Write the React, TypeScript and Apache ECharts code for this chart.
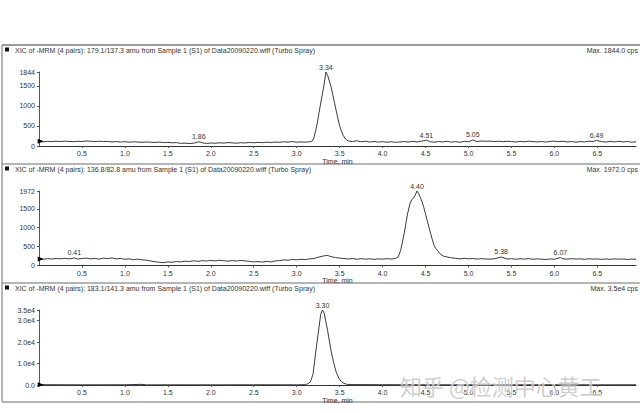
import React, { useEffect, useRef } from "react";
import * as echarts from "echarts";

// ---- data ----
const titles = [
  "XIC of -MRM (4 pairs): 179.1/137.3 amu from Sample 1 (S1) of Data20090220.wiff (Turbo Spray)",
  "XIC of -MRM (4 pairs): 136.8/82.8 amu from Sample 1 (S1) of Data20090220.wiff (Turbo Spray)",
  "XIC of -MRM (4 pairs): 183.1/141.3 amu from Sample 1 (S1) of Data20090220.wiff (Turbo Spray)",
];
const maxLabels = ["Max. 1844.0 cps", "Max. 1972.0 cps", "Max. 3.5e4 cps"];
const yMaxes = [1844, 1972, 35000];
const yIntervals = [500, 500, 10000];
const xName = "Time, min";
const xMax = 6.95;

const times1 = [
  0.0, 0.05, 0.1, 0.15, 0.2, 0.25, 0.3, 0.35, 0.4, 0.45, 0.5, 0.55, 0.6, 0.65, 0.7, 0.75, 0.8, 0.85, 0.9, 0.95,
  1.0, 1.05, 1.1, 1.15, 1.2, 1.25, 1.3, 1.35, 1.4, 1.45, 1.5, 1.55, 1.6, 1.65, 1.7, 1.75, 1.8, 1.86, 1.9, 1.95,
  2.0, 2.05, 2.1, 2.15, 2.2, 2.25, 2.3, 2.35, 2.4, 2.45, 2.5, 2.55, 2.6, 2.65, 2.7, 2.75, 2.8, 2.85, 2.9, 2.95,
  3.0, 3.05, 3.1, 3.15, 3.18, 3.2, 3.22, 3.24, 3.26, 3.28, 3.3, 3.32, 3.34, 3.36, 3.38, 3.4, 3.42, 3.44, 3.46,
  3.48, 3.5, 3.52, 3.54, 3.56, 3.58, 3.6, 3.65, 3.7, 3.75, 3.8, 3.85, 3.9, 3.95, 4.0, 4.05, 4.1, 4.15, 4.2,
  4.25, 4.3, 4.35, 4.4, 4.45, 4.51, 4.55, 4.6, 4.65, 4.7, 4.75, 4.8, 4.85, 4.9, 4.95, 5.0, 5.05, 5.1, 5.15,
  5.2, 5.25, 5.3, 5.35, 5.4, 5.45, 5.5, 5.55, 5.6, 5.65, 5.7, 5.75, 5.8, 5.85, 5.9, 5.95, 6.0, 6.05, 6.1,
  6.15, 6.2, 6.25, 6.3, 6.35, 6.4, 6.45, 6.49, 6.55, 6.6, 6.65, 6.7, 6.75, 6.8, 6.85, 6.9, 6.95,
];
const counts1 = [
  120, 105, 115, 110, 118, 112, 120, 115, 108, 118, 112, 125, 118, 108, 120, 110, 115, 102, 110, 98,
  108, 95, 105, 98, 92, 100, 95, 88, 97, 85, 90, 80, 85, 65, 72, 60, 70, 105, 80, 62,
  75, 68, 80, 72, 85, 78, 70, 82, 75, 88, 80, 90, 84, 95, 88, 98, 92, 105, 98, 110,
  95, 102, 96, 105, 120, 200, 380, 575, 830, 1075, 1300, 1550, 1844, 1760, 1620, 1480, 1280, 1080, 880,
  680, 500, 380, 270, 200, 150, 125, 110, 130, 105, 118, 100, 112, 98, 108, 95, 105, 92, 100,
  110, 98, 115, 102, 118, 145, 108, 95, 112, 100, 118, 96, 110, 92, 115, 105, 150, 112, 125,
  118, 122, 110, 120, 108, 118, 112, 100, 115, 105, 120, 110, 102, 112, 98, 115, 120, 108, 118,
  100, 112, 96, 110, 102, 118, 112, 140, 110, 98, 115, 102, 118, 100, 112, 95, 105,
];
const peaks1 = [
  [1.86, 105],
  [3.34, 1844],
  [4.51, 145],
  [5.05, 150],
  [6.49, 140],
];

const times2 = [
  0.0, 0.05, 0.1, 0.15, 0.2, 0.25, 0.3, 0.35, 0.41, 0.45, 0.5, 0.55, 0.6, 0.65, 0.7, 0.75, 0.8, 0.85, 0.9, 0.95,
  1.0, 1.05, 1.1, 1.15, 1.2, 1.25, 1.3, 1.35, 1.4, 1.45, 1.5, 1.55, 1.6, 1.65, 1.7, 1.75, 1.8, 1.85, 1.9, 1.95,
  2.0, 2.05, 2.1, 2.15, 2.2, 2.25, 2.3, 2.35, 2.4, 2.45, 2.5, 2.55, 2.6, 2.65, 2.7, 2.75, 2.8, 2.85, 2.9, 2.95,
  3.0, 3.05, 3.1, 3.15, 3.2, 3.25, 3.3, 3.35, 3.4, 3.45, 3.5, 3.55, 3.6, 3.65, 3.7, 3.75, 3.8, 3.85, 3.9, 3.95,
  4.0, 4.05, 4.1, 4.15, 4.18, 4.21, 4.25, 4.29, 4.32, 4.34, 4.36, 4.38, 4.4, 4.42, 4.44, 4.46, 4.48, 4.5, 4.52,
  4.54, 4.56, 4.58, 4.6, 4.62, 4.64, 4.67, 4.71, 4.75, 4.8, 4.85, 4.9, 4.95, 5.0, 5.05, 5.1, 5.15, 5.2, 5.25,
  5.3, 5.38, 5.45, 5.5, 5.55, 5.6, 5.65, 5.7, 5.75, 5.8, 5.85, 5.9, 5.95, 6.0, 6.07, 6.1, 6.15, 6.2, 6.25,
  6.3, 6.35, 6.4, 6.45, 6.5, 6.55, 6.6, 6.65, 6.7, 6.75, 6.8, 6.85, 6.9, 6.95,
];
const counts2 = [
  175, 165, 180, 172, 185, 178, 190, 175, 200, 170, 185, 195, 175, 188, 170, 195, 182, 200, 175, 185,
  165, 175, 155, 168, 150, 140, 120, 100, 85, 75, 95, 85, 105, 95, 115, 105, 125, 110, 130, 118,
  135, 120, 140, 125, 115, 130, 118, 135, 122, 110, 95, 105, 90, 110, 95, 120, 130, 150, 140, 160,
  150, 165, 155, 175, 185, 220, 245, 270, 235, 210, 195, 185, 170, 185, 165, 180, 168, 178, 162, 175,
  168, 180, 170, 185, 220, 395, 830, 1360, 1650, 1740, 1790, 1860, 1972, 1900, 1800, 1680, 1535, 1360, 1185,
  1010, 840, 680, 525, 450, 395, 307, 245, 225, 205, 190, 175, 190, 178, 185, 170, 180, 172, 168,
  178, 225, 170, 182, 165, 178, 170, 182, 165, 175, 168, 158, 175, 165, 210, 175, 168, 180, 170,
  176, 165, 178, 168, 175, 162, 172, 165, 175, 168, 172, 160, 170, 165,
];
const peaks2 = [
  [0.41, 200],
  [4.4, 1972],
  [5.38, 225],
  [6.07, 210],
];

const times3 = [
  0.0, 0.5, 1.0, 1.2, 1.25, 1.5, 2.0, 2.5, 3.0, 3.1, 3.13, 3.16, 3.19, 3.22, 3.25, 3.28, 3.3, 3.32, 3.34, 3.36,
  3.38, 3.4, 3.43, 3.46, 3.49, 3.52, 3.55, 3.58, 3.62, 4.0, 4.5, 5.0, 5.5, 6.0, 6.5, 6.95,
];
const counts3 = [
  150, 100, 120, 300, 80, 100, 90, 110, 100, 150, 600, 1500, 5000, 14900, 24000, 33000, 35000, 33500, 29500, 25500,
  20500, 16000, 10500, 6000, 3200, 1600, 800, 350, 200, 150, 120, 100, 120, 110, 100, 120,
];
const peaks3 = [[3.3, 35000]];

const watermark = "知乎 @检测中心黄工";

// ---- layout / style ----
const panelTops = [45, 164, 283];
const panelBottom = 402;
const FONT = "Liberation Sans, Arial, sans-serif";
const TXT = "#333333";

export default function App() {
  const ref = useRef<HTMLDivElement>(null);

  useEffect(() => {
    if (!ref.current) return;
    const chart = echarts.init(ref.current, undefined, { renderer: "svg" });
    const seriesData = [
      times1.map((t, i) => [t, counts1[i]]),
      times2.map((t, i) => [t, counts2[i]]),
      times3.map((t, i) => [t, counts3[i]]),
    ];
    const peakSets = [peaks1, peaks2, peaks3];

    const yFmt = (p: number) => (v: number) => {
      if (p === 2) return v === 0 ? "0.0" : (v / 10000).toFixed(1) + "e4";
      return String(Math.round(v));
    };

    const option: any = {
      animation: false,
      backgroundColor: "#ffffff",
      textStyle: { fontFamily: FONT },
      title: panelTops.flatMap((T, i) => [
        {
          text: titles[i],
          left: 15,
          top: T + 1,
          padding: 0,
          textStyle: { fontSize: 7, fontWeight: "normal", color: TXT, fontFamily: FONT, lineHeight: 8 },
        },
        {
          text: maxLabels[i],
          right: 2,
          top: T + 1,
          padding: 0,
          textStyle: { fontSize: 7, fontWeight: "normal", color: TXT, fontFamily: FONT, lineHeight: 8 },
        },
      ]),
      grid: panelTops.map((T, i) => ({
        left: 39,
        right: 4,
        top: T + 27,
        height: 74 + i * 0.5,
        containLabel: false,
      })),
      xAxis: panelTops.map((_, i) => ({
        type: "value",
        gridIndex: i,
        min: 0,
        max: xMax,
        interval: 0.5,
        name: xName,
        nameLocation: "middle",
        nameGap: 10,
        nameTextStyle: { fontSize: 7, color: TXT, fontFamily: FONT },
        axisLine: { show: true, onZero: false, lineStyle: { color: "#333", width: 1 } },
        axisTick: { show: true, length: 2, lineStyle: { color: "#555" } },
        axisLabel: {
          fontSize: 7,
          color: TXT,
          margin: 4,
          showMinLabel: false,
          showMaxLabel: false,
          formatter: (v: number) => v.toFixed(1),
        },
        splitLine: { show: false },
      })),
      yAxis: panelTops.map((_, i) => ({
        type: "value",
        gridIndex: i,
        min: 0,
        max: yMaxes[i],
        interval: yIntervals[i],
        axisLine: { show: true, lineStyle: { color: "#555", width: 1 } },
        axisTick: { show: true, length: 2, lineStyle: { color: "#555" } },
        axisLabel: { fontSize: 7, color: TXT, margin: 4, formatter: yFmt(i) },
        splitLine: { show: false },
      })),
      series: panelTops.map((_, i) => ({
        type: "line",
        xAxisIndex: i,
        yAxisIndex: i,
        data: seriesData[i],
        symbol: "none",
        lineStyle: { color: "#3a3a3a", width: 1 },
        markPoint: {
          silent: true,
          data: [
            ...peakSets[i].map((p) => ({
              coord: p,
              name: p[0].toFixed(2),
              symbol: "circle",
              symbolSize: 1,
              itemStyle: { color: "rgba(0,0,0,0)" },
              label: {
                show: true,
                position: "top",
                distance: 1,
                formatter: "{b}",
                fontSize: 7,
                color: TXT,
                fontFamily: FONT,
              },
            })),
            {
              coord: [0.02, seriesData[i][0][1]],
              symbol: "triangle",
              symbolSize: [5, 6],
              symbolRotate: -90,
              itemStyle: { color: "#000" },
              label: { show: false },
            },
          ],
        },
      })),
      graphic: [
        ...[...panelTops, panelBottom].map((y, k) => ({
          type: "line",
          shape: { x1: 2, y1: y, x2: 640, y2: y },
          style: { stroke: "#9c9c9c", lineWidth: k === 0 ? 2 : 1.5 },
        })),
        {
          type: "line",
          shape: { x1: 2, y1: panelTops[0], x2: 2, y2: panelBottom },
          style: { stroke: "#9c9c9c", lineWidth: 1.5 },
        },
        ...panelTops.map((T) => ({
          type: "rect",
          shape: { x: 5, y: T + 2.5, width: 4, height: 4 },
          style: { fill: "#111" },
        })),
        {
          type: "text",
          x: 400,
          y: 374,
          z: 100,
          style: {
            text: watermark,
            fontSize: 22,
            fontFamily: "Noto Sans CJK SC",
            fill: "rgba(190,190,190,0.75)",
            stroke: "rgba(255,255,255,0.6)",
            lineWidth: 1,
          },
        },
      ],
    };
    chart.setOption(option);
    return () => chart.dispose();
  }, []);

  return (
    <div
      ref={ref}
      style={{ position: "fixed", left: 0, top: 0, width: 640, height: 413, background: "#fff" }}
    />
  );
}
